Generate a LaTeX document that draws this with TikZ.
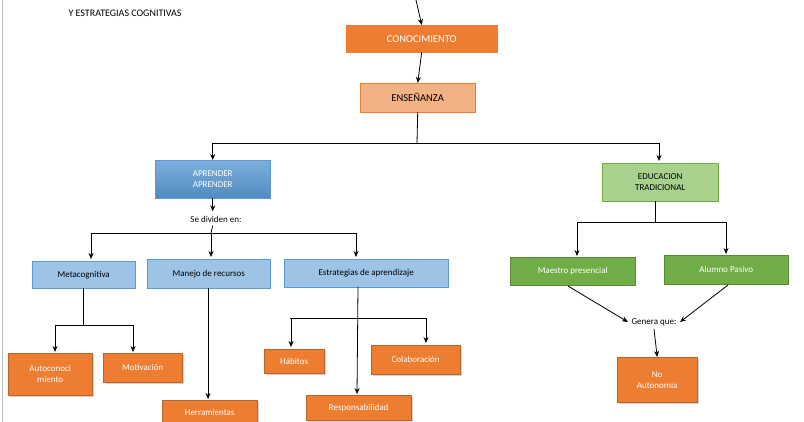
\documentclass[tikz,border=0pt]{standalone}
\usepackage{fontspec}
\setmainfont{Carlito}
\usetikzlibrary{arrows.meta,shadows}
\definecolor{org}{HTML}{ED7D31}
\definecolor{salm}{HTML}{F4B183}
\definecolor{blu}{HTML}{5B9BD5}
\definecolor{lblu}{HTML}{9DC3E6}
\definecolor{lgrn}{HTML}{A9D18E}
\definecolor{grn}{HTML}{70AD47}
\begin{document}
\begin{tikzpicture}[x=1pt,y=-1pt,font=\fontsize{9}{11}\selectfont,
  arr/.style={-{Stealth[length=6pt,width=5pt]},line width=0.8pt},
  ln/.style={line width=0.8pt},
  box/.style={draw,anchor=north west,inner sep=0pt,align=center},
  obox/.style={box,fill=org,draw=org!80!black,text=white,drop shadow={opacity=0.35,shadow xshift=1.5pt,shadow yshift=-1.5pt}},
  bbox/.style={box,fill=lblu,draw=blu},
  gbox/.style={box,fill=grn,draw=grn!80!black,text=white}]
\useasboundingbox (0,0) rectangle (804,422);
\fill[white] (0,0) rectangle (804,422);
\draw[gray!50,line width=1pt] (2,0) -- (2,422);
\node[anchor=north west,font=\fontsize{10}{12}\selectfont] (title) at (65,6) {Y ESTRATEGIAS COGNITIVAS};
\coordinate (top) at (416,0);
\node[box,fill=org,draw=org,text=white,minimum width=151pt,minimum height=27pt,font=\fontsize{10.5}{12}\selectfont] (con) at (346,25) {CONOCIMIENTO};
\node[box,fill=salm,draw=org,minimum width=115pt,minimum height=29pt,font=\fontsize{10.5}{12}\selectfont] (ens) at (360,83) {ENSEÑANZA};
\node[box,top color=blu!80,bottom color=blu!90!black,draw=blu,text=white,minimum width=115pt,minimum height=38pt] (apr) at (155,160) {APRENDER\\APRENDER};
\node[box,fill=lgrn,draw=grn,minimum width=116pt,minimum height=38pt] (edu) at (602,163) {EDUCACION\\TRADICIONAL};
\node (se) at (216,219) {Se dividen en:};
\node[bbox,minimum width=103pt,minimum height=27pt] (meta) at (32,261) {Metacognitiva};
\node[bbox,minimum width=123pt,minimum height=29pt] (man) at (147,259) {Manejo de recursos};
\node[bbox,minimum width=164pt,minimum height=28pt] (est) at (284,259) {Estrategias de aprendizaje};
\node[obox,minimum width=84pt,minimum height=42pt] (auto) at (8,353) {Autoconoci\\miento};
\node[obox,minimum width=79pt,minimum height=29pt] (mot) at (103,353) {Motivación};
\node[obox,minimum width=95pt,minimum height=24pt] (her) at (162,400) {Herramientas};
\node[obox,minimum width=60pt,minimum height=24pt] (hab) at (264,349) {Hábitos};
\node[obox,minimum width=89pt,minimum height=29pt] (col) at (371,345) {Colaboración};
\node[obox,minimum width=105pt,minimum height=25pt] (res) at (306,395) {Responsabilidad};
\node[gbox,minimum width=125pt,minimum height=28pt] (mae) at (510,257) {Maestro presencial};
\node[gbox,minimum width=124pt,minimum height=29pt] (alu) at (664,255) {Alumno Pasivo};
\node (gen) at (654,322) {Genera que:};
\node[obox,minimum width=80pt,minimum height=45pt] (no) at (617,357) {No\\Autonomia};
% connectors
\draw[arr] (top) -- (con.north);
\draw[arr] (con.south) -- (ens.north);
\draw[ln] (ens.south) -- (417,143);
\draw[arr] (417,143) -| (apr.north);
\draw[arr] (417,143) -- (659,143) -- (659,161);
\draw[arr] (apr.south) -- ([yshift=1pt]se.north -| apr.south);
\draw[ln] (se.south -| apr.south) -- (211,233);
\draw[arr] (91,233) -- (91,259);
\draw[ln] (91,233) -- (356,233);
\draw[arr] (211,233) -- (211,257);
\draw[arr] (356,233) -- (356,257);
\draw[ln] (83,288) -- (83,325);
\draw[ln] (55,325) -- (133,325);
\draw[arr] (55,325) -- (55,352);
\draw[arr] (133,325) -- (133,352);
\draw[arr] (208,288) -- (208,399);
\draw[arr] (358,287) -- (357,394);
\draw[ln] (290,318) -- (427,318);
\draw[arr] (291,318) -- (291,347);
\draw[arr] (426,318) -- (426,343);
\draw[ln] (655,201) -- (655,222);
\draw[ln] (577,222) -- (726,222);
\draw[arr] (577,222) -- (577,256);
\draw[arr] (726,222) -- (726,254);
\draw[arr] (568,286) -- (gen.west);
\draw[arr] (728,285) -- (gen.east);
\draw[arr] (gen.south) -- (no.north);
\end{tikzpicture}
\end{document}
